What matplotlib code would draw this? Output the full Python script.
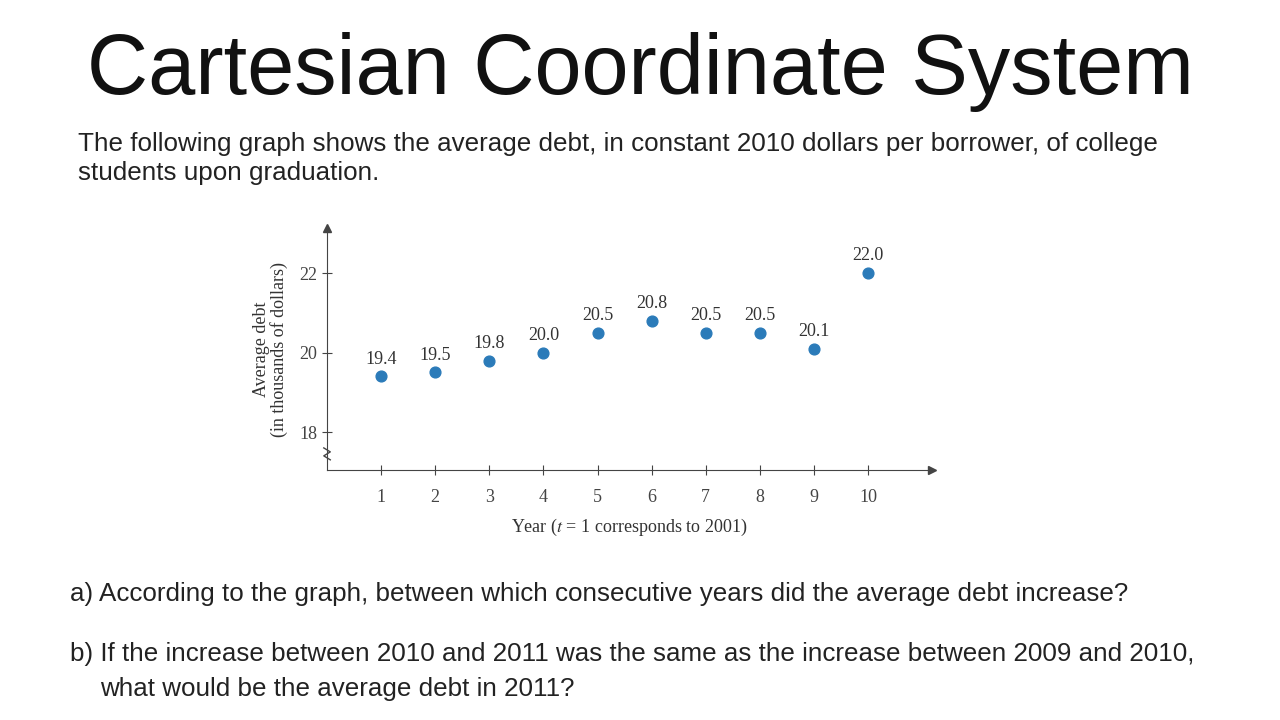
import matplotlib
matplotlib.use("Agg")
import matplotlib.pyplot as plt

years = [1, 2, 3, 4, 5, 6, 7, 8, 9, 10]
debt = [19.4, 19.5, 19.8, 20.0, 20.5, 20.8, 20.5, 20.5, 20.1, 22.0]
y_ticks = [18, 20, 22]

plt.rcParams["mathtext.fontset"] = "stix"

fig = plt.figure(figsize=(12.8, 7.2), dpi=100)
fig.patch.set_facecolor("white")

sans = "Liberation Sans"
serif = "Liberation Serif"
body = 18.7

fig.text(0.5, 0.9, "Cartesian Coordinate System", ha="center", va="center",
         fontsize=61, family=sans, color="#111111")
fig.text(0.061, 0.8, "The following graph shows the average debt, in constant 2010 dollars per borrower, of college",
         fontsize=body, family=sans, va="center", color="#222222")
fig.text(0.061, 0.76, "students upon graduation.", fontsize=body, family=sans, va="center", color="#222222")
fig.text(0.055, 0.175, "a) According to the graph, between which consecutive years did the average debt increase?",
         fontsize=body, family=sans, va="center", color="#222222")
fig.text(0.055, 0.092, "b) If the increase between 2010 and 2011 was the same as the increase between 2009 and 2010,",
         fontsize=body, family=sans, va="center", color="#222222")
fig.text(0.078, 0.043, "what would be the average debt in 2011?", fontsize=body, family=sans, va="center", color="#222222")

ax = fig.add_axes([0.2555, 0.347, 0.4725, 0.336])
ax.set_xlim(0, 11.18)
ax.set_ylim(17.04, 23.13)
for s in ["top", "right"]:
    ax.spines[s].set_visible(False)
for s in ["left", "bottom"]:
    ax.spines[s].set_color("#444444")
ax.plot(1, 0, ">", color="#444444", transform=ax.transAxes, clip_on=False, ms=6)
ax.plot(0, 1, "^", color="#444444", transform=ax.transAxes, clip_on=False, ms=6)

ax.scatter(years, debt, s=60, color="#2b7bb9", zorder=3)
for x, y in zip(years, debt):
    ax.text(x, y + 0.22, "%.1f" % y, ha="center", va="bottom", fontsize=13,
            family=serif, color="#333333")

ax.set_xticks(years)
ax.set_yticks(y_ticks)
ax.tick_params(direction="inout", length=7, colors="#444444", labelsize=13)
for lab in ax.get_xticklabels() + ax.get_yticklabels():
    lab.set_family(serif)
ax.tick_params(axis="x", pad=10)

# axis break mark
ax.plot([-0.06, 0.06, -0.06, 0.06], [17.6, 17.5, 17.4, 17.3], color="#444444", lw=1, clip_on=False)

ax.set_xlabel("Year ($t$ = 1 corresponds to 2001)", family=serif, fontsize=13, color="#333333", labelpad=8)
ax.set_ylabel("Average debt\n(in thousands of dollars)", family=serif, fontsize=13, color="#333333",
              linespacing=1.0, labelpad=8)

fig.savefig("out.png", dpi=100)
